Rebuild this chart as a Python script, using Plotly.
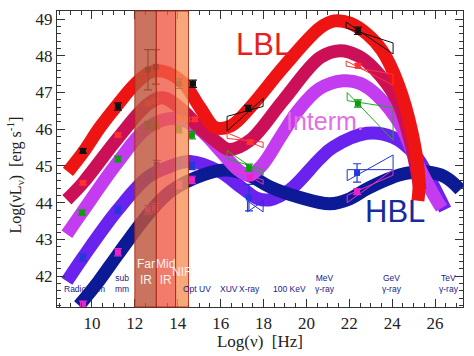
import plotly.graph_objects as go

# ---------------- data ----------------
# model curves (log nu, log nuLnu)
lbl_x = [8.88, 9.6, 10.37, 11.21, 12.0, 12.7, 13.3, 14.24, 15.04, 15.74, 16.5, 17.37, 18.91, 20.63, 21.3, 22.03, 22.83, 23.53, 24.27, 24.93, 25.25, 25.2]
lbl_y = [44.84, 45.38, 46.05, 46.68, 47.22, 47.55, 47.58, 47.27, 46.59, 46.05, 46.1, 46.59, 47.68, 48.76, 48.95, 48.89, 48.59, 48.14, 47.24, 45.89, 44.62, 44.05]

c2_x = [8.83, 9.58, 11.21, 12.61, 13.3, 14.24, 15.04, 15.83, 16.4, 17.37, 18.91, 20.63, 21.57, 22.4, 23.1, 24.23, 24.83, 25.3]
c2_y = [44.08, 44.54, 45.76, 46.68, 46.86, 46.51, 46.03, 45.65, 45.45, 45.70, 46.78, 47.95, 48.14, 48.0, 47.68, 46.78, 45.7, 44.35]

c3_x = [8.83, 9.53, 11.21, 12.61, 13.9, 15.0, 16.0, 16.8, 17.3, 17.9, 18.8, 19.6, 20.6, 21.7, 22.5, 23.3, 24.4, 25.1, 25.8, 26.3]
c3_y = [43.14, 43.73, 45.11, 46.05, 46.3, 46.0, 45.4, 44.9, 44.75, 45.0, 45.8, 46.5, 47.1, 47.32, 47.25, 46.92, 46.1, 45.16, 44.35, 43.85]

c4_x = [8.83, 9.58, 11.21, 12.61, 13.64, 14.57, 15.97, 17.0, 17.7, 18.3, 19.23, 20.63, 21.24, 22.83, 24.04, 25.07, 25.77, 26.47]
c4_y = [41.86, 42.51, 43.81, 44.70, 44.99, 45.12, 44.84, 44.4, 44.12, 44.08, 44.35, 45.2, 45.51, 45.89, 45.78, 45.3, 44.62, 43.81]

hbl_x = [9.4, 10.3, 11.21, 12.61, 13.64, 15.18, 16.3, 17.37, 18.3, 19.7, 21.1, 22.03, 22.83, 24.37, 25.53, 26.47, 27.17]
hbl_y = [41.2, 41.85, 42.59, 43.68, 44.30, 44.76, 44.89, 44.73, 44.43, 44.14, 43.97, 44.11, 44.38, 44.76, 44.84, 44.7, 44.35]

# binned data points
blk_x = [9.58, 11.21, 12.61, 12.99, 14.06, 14.71, 17.28, 22.4]
blk_y = [45.41, 46.62, 47.62, 47.70, 47.24, 47.24, 46.57, 48.68]
blk_e = [0.06, 0.1, 0.55, 0.47, 0.13, 0.1, 0.08, 0.1]

red_x = [9.58, 11.21, 12.61, 12.94, 14.06, 14.43, 14.8, 17.37, 22.4]
red_y = [44.54, 45.84, 46.70, 46.78, 46.30, 46.27, 46.27, 45.65, 47.73]
red_e = [0.05, 0.05, 0.06, 0.06, 0.06, 0.05, 0.05, 0.05, 0.05]

grn_x = [9.53, 11.21, 12.61, 12.99, 14.06, 14.66, 17.32, 22.4]
grn_y = [43.73, 45.19, 46.11, 46.11, 46.0, 45.84, 44.95, 46.70]
grn_e = [0.07, 0.08, 0.1, 0.1, 0.1, 0.1, 0.1, 0.1]

blu_x = [9.58, 11.21, 12.61, 13.03, 14.06, 14.66, 17.32, 22.36]
blu_y = [42.51, 43.81, 44.70, 45.03, 45.08, 45.0, 44.14, 44.81]
blu_e = [0.1, 0.1, 0.1, 0.12, 0.12, 0.1, 0.36, 0.25]

pnk_x = [9.58, 11.21, 12.61, 12.94, 14.06, 14.66, 17.37, 22.36]
pnk_y = [41.24, 42.65, 43.81, 43.86, 44.49, 44.62, 44.68, 44.30]
pnk_e = [0.08, 0.1, 0.12, 0.12, 0.1, 0.1, 0.08, 0.08]

# bowties (X-ray and GeV spectra)
bow_x1 = [16.3, 16.3, 16.3, 16.4, 17.25, 21.85, 21.85, 21.9, 21.9, 21.9]
bow_x2 = [17.98, 17.98, 17.98, 17.98, 17.98, 24.04, 24.04, 24.04, 24.04, 24.04]
bow_lo1 = [45.95, 45.75, 45.2, 44.9, 43.75, 48.76, 47.72, 46.78, 44.6, 44.0]
bow_hi1 = [46.35, 45.9, 45.42, 45.05, 44.05, 48.92, 47.86, 47.0, 44.9, 44.2]
bow_lo2 = [46.62, 45.5, 44.75, 44.5, 43.75, 48.05, 47.2, 45.7, 44.9, 44.75]
bow_hi2 = [46.84, 45.65, 44.9, 44.62, 44.05, 48.35, 47.5, 46.59, 45.3, 44.9]
bow_col = ["#111111", "#ff3333", "#22aa22", "#ee33cc", "#2233cc", "#111111", "#ff3333", "#22aa22", "#2233cc", "#ee33cc"]

# IR bands
band_names = ["Far<br>IR", "Mid<br>IR", "NIR"]
band_lo = [12.0, 13.0, 13.9]
band_hi = [13.0, 13.9, 14.5]

# spectral region labels
reg_names = ["Radio", "mm", "sub<br>mm", "Opt UV", "XUV", "X-ray", "100 KeV", "MeV<br>γ-ray", "GeV<br>γ-ray", "TeV<br>γ-ray"]
reg_x = [9.21, 10.28, 11.4, 14.88, 16.4, 17.36, 19.23, 20.87, 23.99, 26.65]

# ---------------- figure ----------------
fig = go.Figure()

curves = [
    (c4_x, c4_y, "#6a22ee"),
    (hbl_x, hbl_y, "#0c1a96"),
    (c3_x, c3_y, "#c43cf0"),
    (c2_x, c2_y, "#cc1058"),
    (lbl_x, lbl_y, "#ee1414"),
]
for cx, cy, col in curves:
    fig.add_trace(go.Scatter(x=cx, y=cy, mode="lines",
                             line=dict(color=col, width=13, shape="spline", smoothing=1.0),
                             hoverinfo="skip", showlegend=False))

for i in range(len(bow_x1)):
    fig.add_trace(go.Scatter(
        x=[bow_x1[i], bow_x2[i], bow_x2[i], bow_x1[i], bow_x1[i]],
        y=[bow_lo1[i], bow_hi2[i], bow_lo2[i], bow_hi1[i], bow_lo1[i]],
        mode="lines", line=dict(color=bow_col[i], width=1),
        hoverinfo="skip", showlegend=False))

pts = [
    (blk_x, blk_y, blk_e, "#111111"),
    (red_x, red_y, red_e, "#ff3030"),
    (grn_x, grn_y, grn_e, "#119911"),
    (blu_x, blu_y, blu_e, "#2238dd"),
    (pnk_x, pnk_y, pnk_e, "#ee22cc"),
]
for px, py, pe, col in pts:
    fig.add_trace(go.Scatter(
        x=px, y=py, mode="markers",
        marker=dict(symbol="square", size=6, color=col),
        error_y=dict(type="data", array=pe, color=col, thickness=1.2, width=4),
        hoverinfo="skip", showlegend=False))

band_cols = ["rgba(190,85,60,0.82)", "rgba(240,90,70,0.80)", "rgba(246,145,90,0.80)"]
shapes = []
for lo, hi, fc in zip(band_lo, band_hi, band_cols):
    shapes.append(dict(type="rect", xref="x", yref="paper", x0=lo, x1=hi, y0=0, y1=1,
                       fillcolor=fc, line=dict(color="rgba(170,40,20,0.9)", width=1),
                       layer="above"))

sans = "Liberation Sans, Arial, sans-serif"
annotations = []
band_cx = [(lo + hi) / 2 for lo, hi in zip(band_lo, band_hi)]
for name, cx in zip(band_names, band_cx):
    annotations.append(dict(x=cx, y=42.1, xref="x", yref="y", text=name, showarrow=False,
                            font=dict(family=sans, size=12, color="#fff0ec"),
                            align="center"))
for name, rx in zip(reg_names, reg_x):
    annotations.append(dict(x=rx, y=41.45, xref="x", yref="y", text=name, showarrow=False,
                            yanchor="bottom",
                            font=dict(family=sans, size=8.5, color="#1a1a8c"),
                            align="center"))

annotations.append(dict(x=17.98, y=48.32, xref="x", yref="y", text="LBL", showarrow=False,
                        font=dict(family=sans, size=31, color="#e8201c")))
annotations.append(dict(x=20.87, y=46.22, xref="x", yref="y", text="Interm.", showarrow=False,
                        font=dict(family=sans, size=25, color="#e46ee6")))
annotations.append(dict(x=24.13, y=43.76, xref="x", yref="y", text="HBL", showarrow=False,
                        font=dict(family=sans, size=31, color="#1a2a9a")))
annotations.append(dict(x=-0.103, y=0.445, xref="paper", yref="paper", textangle=-90,
                        text="Log(νL<sub>ν</sub>)  [erg s<sup>-1</sup>]", showarrow=False,
                        xanchor="center", yanchor="middle",
                        font=dict(family="Liberation Serif, DejaVu Serif, serif", size=16, color="#222")))

axis_font = dict(family="Liberation Serif, DejaVu Serif, serif", size=17, color="#222222")
fig.update_layout(
    width=474, height=356,
    margin=dict(l=57, r=11, t=10, b=48),
    paper_bgcolor="white", plot_bgcolor="white",
    shapes=shapes, annotations=annotations,
    xaxis=dict(range=[8.37, 27.3], tick0=10, dtick=2, ticks="inside", ticklen=8, tickwidth=1,
               tickcolor="#333", showline=True, linecolor="#333", linewidth=1.2, mirror="ticks",
               showgrid=False, zeroline=False, tickfont=axis_font,
               minor=dict(ticks="inside", ticklen=4, dtick=0.5, tick0=10, tickcolor="#333", showgrid=False),
               title=dict(text="Log(ν)  [Hz]", font=axis_font, standoff=2)),
    yaxis=dict(range=[41.16, 49.22], tick0=42, dtick=1, ticks="inside", ticklen=8, tickwidth=1,
               tickcolor="#333", showline=True, linecolor="#333", linewidth=1.2, mirror="ticks",
               showgrid=False, zeroline=False, tickfont=axis_font,
               minor=dict(ticks="inside", ticklen=4, dtick=0.2, tick0=42, tickcolor="#333", showgrid=False)),
)

fig.write_html("out.html", config={"displayModeBar": False},
               post_script="document.body.style.margin='0px';")
